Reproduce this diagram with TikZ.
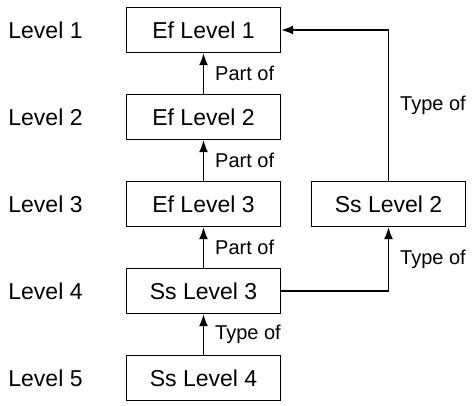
\documentclass[tikz,border=0pt]{standalone}
\usepackage{fontspec}
\setmainfont{Liberation Sans}
\usetikzlibrary{arrows.meta}

\tikzset{
  box/.style={draw, line width=1.4pt, minimum width=154pt, minimum height=45pt, font=\fontsize{23}{27}\selectfont},
  lvl/.style={font=\fontsize{23}{27}\selectfont},
  rel/.style={font=\fontsize{20}{24}\selectfont, inner sep=3pt},
}

\begin{document}
\begin{tikzpicture}[node distance=87pt, auto, line width=1.4pt, >={Latex[length=12pt,width=9pt]}]
  \useasboundingbox (0,0) rectangle (474pt,-405pt);

  % Nodes
  \node (ef1) [box] at (203.5pt,-30pt) {Ef Level 1};
  \node (ef2) [box, below of=ef1] {Ef Level 2};
  \node (ef3) [box, below of=ef2] {Ef Level 3};
  \node (ss3) [box, below of=ef3] {Ss Level 3};
  \node (ss4) [box, below of=ss3] {Ss Level 4};
  \node (ss2) [box, right of=ef3, node distance=185pt] {Ss Level 2};

  \node (lv1) [lvl, left of=ef1, node distance=158pt] {Level 1};
  \node (lv2) [lvl, left of=ef2, node distance=158pt] {Level 2};
  \node (lv3) [lvl, left of=ef3, node distance=158pt] {Level 3};
  \node (lv4) [lvl, left of=ss3, node distance=158pt] {Level 4};
  \node (lv5) [lvl, left of=ss4, node distance=158pt] {Level 5};

  % Arrows
  \draw[->] (ef2) -- node[rel, right=8pt] {Part of} (ef1);
  \draw[->] (ef3) -- node[rel, right=8pt] {Part of} (ef2);
  \draw[->] (ss3) -- node[rel, right=8pt] {Part of} (ef3);
  \draw[->] (ss4) -- node[rel, right=8pt] {Type of} (ss3);
  \draw[->] (ss2) |- node[rel, right=8pt, pos=0.25] {Type of} (ef1);
  \draw[->] (ss3) -| node[rel, right=8pt, pos=0.75] {Type of} (ss2);

\end{tikzpicture}
\end{document}
